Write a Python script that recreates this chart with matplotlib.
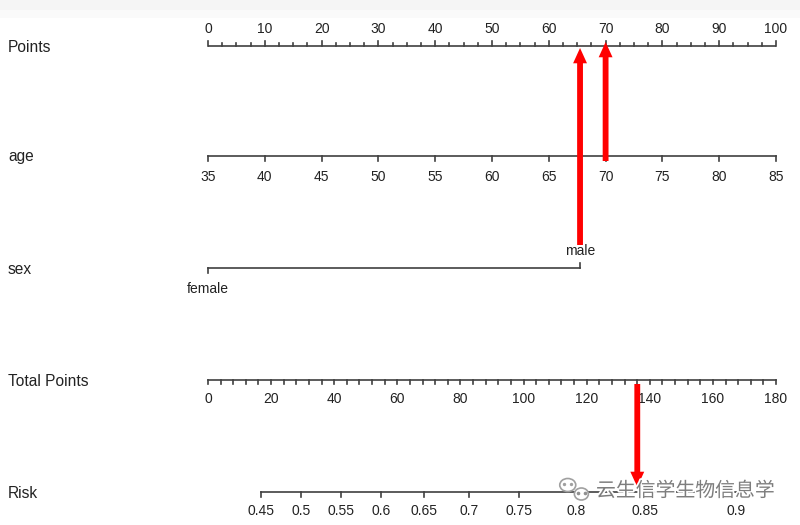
import numpy as np
import matplotlib
matplotlib.use("Agg")
import matplotlib.pyplot as plt
from matplotlib.patches import FancyArrowPatch, ArrowStyle, Ellipse
import matplotlib.patheffects as pe

plt.rcParams['font.family'] = ['Liberation Sans', 'DejaVu Sans']

# ---------------- data ----------------
row_labels = ["Points", "age", "sex", "Total Points", "Risk"]
points_major = [0, 10, 20, 30, 40, 50, 60, 70, 80, 90, 100]
points_minor_step = 2.5
age_ticks = [35, 40, 45, 50, 55, 60, 65, 70, 75, 80, 85]
age_range = (35, 85)
sex_levels = ["female", "male"]
sex_points = [0, 65.5]
total_major = [0, 20, 40, 60, 80, 100, 120, 140, 160, 180]
total_minor_step = 4
total_max = 180
risk_ticks = [0.45, 0.5, 0.55, 0.6, 0.65, 0.7, 0.75, 0.8, 0.85, 0.9]
risk_labels = ["0.45", "0.5", "0.55", "0.6", "0.65", "0.7", "0.75", "0.8", "0.85", "0.9"]
risk_intercept = 29.5   # total points at risk 0.5
risk_slope = 62.8       # total points per logit unit
patient_age = 70
patient_sex = "male"
watermark = "云生信学生物信息学"

lab_font = dict(family=["Liberation Sans", "DejaVu Sans"], fontsize=11.2)
lvl_font = dict(family=["Liberation Sans", "DejaVu Sans"], fontsize=10)

# ---------------- scales ----------------
def age_to_pts(a):
    return (np.asarray(a, float) - age_range[0]) / (age_range[1] - age_range[0]) * 100

def total_to_pts(t):
    return np.asarray(t, float) / total_max * 100

def risk_to_total(p):
    p = np.asarray(p, float)
    return risk_intercept + risk_slope * np.log(p / (1 - p))

# ---------------- figure ----------------
fig = plt.figure(figsize=(8, 5.25), dpi=100)
ax = fig.add_axes([0, 0, 1, 1])
px_per_pt = 5.68
x0px = 208
ax.set_xlim(-x0px / px_per_pt, (800 - x0px) / px_per_pt)
ax.set_ylim(525, 0)
ax.axis("off")

# light top band
ax.axhspan(0, 10, color="#f5f5f5", zorder=0, lw=0)
ax.axhspan(10, 18, color="#fafafa", zorder=0, lw=0)

lc = "#404040"
tc = "#222222"
lw = 1.2
tick_fs = 10

Y = {"Points": 46, "age": 156, "sex": 268, "Total Points": 380, "Risk": 492}

for lab in row_labels:
    ax.text(-x0px / px_per_pt + 8 / px_per_pt, Y[lab] + 1, lab, color=tc,
            va="center", ha="left", **lab_font)

# Points axis (ticks up, labels above)
y = Y["Points"]
ax.plot([0, 100], [y, y], color=lc, lw=lw, solid_capstyle="butt")
for v in np.arange(0, 100 + 1e-9, points_minor_step):
    major = abs(v - round(v / 10) * 10) < 1e-9
    ax.plot([v, v], [y, y - (5 if major else 3)], color=lc, lw=lw)
for v in points_major:
    ax.text(v, y - 17, str(v), fontsize=tick_fs, color=tc, ha="center", va="center")

# age axis (ticks down, labels below)
y = Y["age"]
ap = age_to_pts(age_ticks)
ax.plot([ap[0], ap[-1]], [y, y], color=lc, lw=lw)
for v, a in zip(ap, age_ticks):
    ax.plot([v, v], [y, y + 5], color=lc, lw=lw)
    ax.text(v, y + 21, str(a), fontsize=tick_fs, color=tc, ha="center", va="center")

# sex axis
y = Y["sex"]
ax.plot([sex_points[0], sex_points[1]], [y, y], color=lc, lw=lw)
ax.plot([sex_points[0]] * 2, [y, y + 5], color=lc, lw=lw)
ax.plot([sex_points[1]] * 2, [y, y - 5], color=lc, lw=lw)
ax.text(sex_points[0], y + 21, sex_levels[0], color=tc, ha="center", va="center", **lvl_font)
ax.text(sex_points[1], y - 17, sex_levels[1], color=tc, ha="center", va="center", **lvl_font)

# Total Points axis (ticks down, labels below)
y = Y["Total Points"]
ax.plot([0, total_to_pts(total_max)], [y, y], color=lc, lw=lw)
for v in np.arange(0, total_max + 1e-9, total_minor_step):
    xp = total_to_pts(v)
    ax.plot([xp, xp], [y, y + 4], color=lc, lw=lw)
for v in total_major:
    ax.text(total_to_pts(v), y + 19, str(v), fontsize=tick_fs, color=tc, ha="center", va="center")

# Risk axis
y = Y["Risk"]
rp = total_to_pts(risk_to_total(risk_ticks))
ax.plot([rp[0], rp[-1]], [y, y], color=lc, lw=lw)
for v, s in zip(rp, risk_labels):
    ax.plot([v, v], [y, y + 5], color=lc, lw=lw)
    ax.text(v, y + 19, s, fontsize=tick_fs, color=tc, ha="center", va="center")

# ---------------- arrows ----------------
age_pts = float(age_to_pts(patient_age))
sex_pts = sex_points[sex_levels.index(patient_sex)]
total_points = age_pts + sex_pts
total_x = float(total_to_pts(total_points))

style = ArrowStyle.Simple(head_length=1.1, head_width=1.0, tail_width=0.42)
def red_arrow(x, y_from, y_to):
    a = FancyArrowPatch((x, y_from), (x, y_to), arrowstyle=style, mutation_scale=10,
                        color="#ff0000", lw=0, shrinkA=0, shrinkB=0, zorder=5)
    ax.add_patch(a)

red_arrow(sex_pts, 245, 48)
red_arrow(age_pts, 161, 42)
red_arrow(total_x + 0.3, 384, 487)

# ---------------- watermark ----------------
wx = (574 - x0px) / px_per_pt
ax.add_patch(Ellipse((wx - 1.1, 485), 16 / px_per_pt, 13, fill=True, fc="white",
                     ec="#a0a0a0", lw=1.2, zorder=6))
ax.add_patch(Ellipse((wx + 1.3, 494), 14 / px_per_pt, 12, fill=True, fc="white",
                     ec="#a0a0a0", lw=1.2, zorder=7))
for dx in (-0.55, 0.55):
    ax.plot(wx + 1.3 + dx, 493, marker="o", ms=1.6, color="#909090", zorder=8)
for dx in (-0.6, 0.6):
    ax.plot(wx - 1.1 + dx, 484, marker="o", ms=1.4, color="#a0a0a0", zorder=6.5)
ax.text((596 - x0px) / px_per_pt, 491, watermark, fontsize=14.3,
        family=["Noto Sans CJK SC", "DejaVu Sans"], color="#7d7d7d",
        ha="left", va="center", zorder=8,
        path_effects=[pe.withStroke(linewidth=2.5, foreground="white")])

fig.savefig("out.png", dpi=100)
